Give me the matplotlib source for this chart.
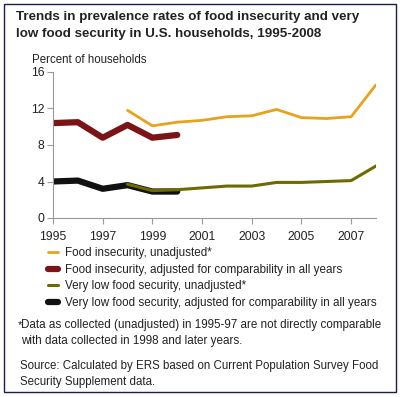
import matplotlib.pyplot as plt
from matplotlib.patches import Rectangle

plt.rcParams["font.family"] = ["Liberation Sans", "DejaVu Sans"]

years_adj = [1995, 1996, 1997, 1998, 1999, 2000]
years_unadj = [1998, 1999, 2000, 2001, 2002, 2003, 2004, 2005, 2006, 2007, 2008]

fi_unadj = [11.8, 10.1, 10.5, 10.7, 11.1, 11.2, 11.9, 11.0, 10.9, 11.1, 14.6]
fi_adj = [10.4, 10.5, 8.8, 10.2, 8.8, 9.1]
vlfs_unadj = [3.7, 3.0, 3.1, 3.3, 3.5, 3.5, 3.9, 3.9, 4.0, 4.1, 5.7]
vlfs_adj = [4.0, 4.1, 3.2, 3.6, 2.9, 2.9]

labels = [
    "Food insecurity, unadjusted*",
    "Food insecurity, adjusted for comparability in all years",
    "Very low food security, unadjusted*",
    "Very low food security, adjusted for comparability in all years",
]
colors = ["#e8a21c", "#7b1416", "#6e6a00", "#111111"]

W, H = 400, 397
fig = plt.figure(figsize=(W / 100, H / 100), dpi=100)
ax = fig.add_axes([53 / W, 1 - 218 / H, (376 - 53) / W, (218 - 72) / H])

l1, = ax.plot(years_unadj, fi_unadj, color=colors[0], lw=2.0, solid_capstyle="round", zorder=3)
l2, = ax.plot(years_adj, fi_adj, color=colors[1], lw=4.5, solid_capstyle="round", zorder=2)
l3, = ax.plot(years_unadj, vlfs_unadj, color=colors[2], lw=2.2, solid_capstyle="round", zorder=3)
l4, = ax.plot(years_adj, vlfs_adj, color=colors[3], lw=4.5, solid_capstyle="round", zorder=2)

ax.set_xlim(1995, 2008)
ax.set_ylim(0, 16)
ax.set_xticks(range(1995, 2008, 2))
ax.set_yticks([0, 4, 8, 12, 16])
for s in ["top", "right"]:
    ax.spines[s].set_visible(False)
for s in ["left", "bottom"]:
    ax.spines[s].set_color("#999999")
    ax.spines[s].set_linewidth(0.8)
ax.tick_params(colors="#999999", labelcolor="#222222", labelsize=8.7, length=4, width=0.8)
ax.tick_params(axis="x", pad=5)
ax.tick_params(axis="y", pad=2)

fig.text(32 / W, 1 - 60 / H, "Percent of households", fontsize=8.3, color="#222222", va="center")

fig.text(16 / W, 1 - 17 / H, "Trends in prevalence rates of food insecurity and very",
         fontsize=9.6, fontweight="bold", color="#222222", va="center")
fig.text(16 / W, 1 - 34 / H, "low food security in U.S. households, 1995-2008",
         fontsize=9.6, fontweight="bold", color="#222222", va="center")

leg = fig.legend([l1, l2, l3, l4], labels, loc="upper left",
                 bbox_to_anchor=(48 / W, 1 - 247 / H), frameon=False,
                 fontsize=8.4, handlelength=0.85, handletextpad=0.6,
                 labelspacing=0.4, borderpad=0, borderaxespad=0)
for t in leg.get_texts():
    t.set_color("#222222")

fig.text(17.5 / W, 1 - 325 / H, "*", fontsize=8, color="#222222", va="center")
fig.text(21 / W, 1 - 325 / H,
         "Data as collected (unadjusted) in 1995-97 are not directly comparable",
         fontsize=8.4, color="#222222", va="center")
fig.text(21 / W, 1 - 341 / H, "with data collected in 1998 and later years.",
         fontsize=8.4, color="#222222", va="center")
fig.text(20 / W, 1 - 366 / H,
         "Source: Calculated by ERS based on Current Population Survey Food",
         fontsize=8.3, color="#222222", va="center")
fig.text(20 / W, 1 - 382 / H, "Security Supplement data.",
         fontsize=8.3, color="#222222", va="center")

fig.patches.append(Rectangle((4 / W, 1 - 392 / H), (396 - 4) / W, (392 - 4) / H,
                             transform=fig.transFigure, fill=False,
                             edgecolor="#1c1c55", lw=1.0))

fig.savefig("out.png", dpi=100)
